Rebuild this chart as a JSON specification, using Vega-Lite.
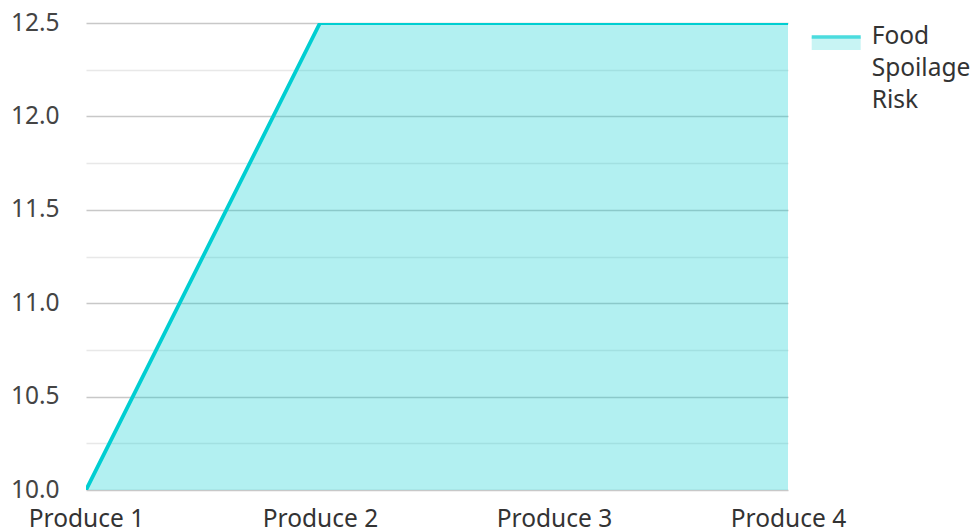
{
  "$schema": "https://vega.github.io/schema/vega-lite/v6.json",
  "autosize": "none",
  "width": 702,
  "height": 467,
  "padding": {"left": 86, "top": 23, "right": 186, "bottom": 41},
  "background": "white",
  "config": {
    "font": "Noto Sans",
    "view": {"stroke": null},
    "style": {"guide-label": {"lineHeight": 32}}
  },
  "data": {
    "values": [
      {"product": "Produce 1", "risk": 10.0},
      {"product": "Produce 2", "risk": 12.5},
      {"product": "Produce 3", "risk": 12.5},
      {"product": "Produce 4", "risk": 12.5}
    ]
  },
  "layer": [
    {
      "mark": {
        "type": "area",
        "fill": "#00CED1",
        "fillOpacity": 0.3,
        "clip": true,
        "line": {"stroke": "#00CED1", "strokeWidth": 3.8}
      },
      "encoding": {
        "x": {
          "field": "product",
          "type": "ordinal",
          "scale": {"type": "point", "padding": 0},
          "axis": {
            "title": null,
            "labelAngle": 0,
            "ticks": false,
            "domain": false,
            "grid": false,
            "labelFontSize": 24.5,
            "labelColor": "#333333",
            "labelPadding": 17
          }
        },
        "y": {
          "field": "risk",
          "type": "quantitative",
          "scale": {"domain": [10, 12.5], "nice": false, "zero": false},
          "axis": {
            "title": null,
            "values": [10, 10.25, 10.5, 10.75, 11, 11.25, 11.5, 11.75, 12, 12.25, 12.5],
            "labelExpr": "datum.value % 0.5 === 0 ? format(datum.value, '.1f') : ''",
            "ticks": false,
            "domain": false,
            "grid": true,
            "gridColor": {"condition": {"test": "datum.value % 0.5 === 0", "value": "#c8c8c8"}, "value": "#e8e8e8"},
            "gridWidth": 1.5,
            "labelFontSize": 24.5,
            "labelColor": "#444444",
            "labelPadding": 27
          }
        }
      }
    },
    {
      "transform": [{"filter": "false"}],
      "mark": {"type": "point", "filled": true, "stroke": "#00CED1", "strokeWidth": 3.7, "strokeDash": [49, 300]},
      "encoding": {
        "color": {
          "datum": "Food Spoilage Risk",
          "scale": {"domain": ["Food Spoilage Risk"], "range": ["#B2F0F0"]},
          "legend": {
            "title": null,
            "orient": "none",
            "legendX": 723.7,
            "legendY": -24.4,
            "padding": 0,
            "symbolType": "M-1,0.486H1V1.016H-1Z",
            "symbolSize": 2401,
            "symbolStrokeColor": "#00CED1",
            "symbolStrokeWidth": 3.7,
            "symbolDash": [49, 300],
            "labelFontSize": 24.5,
            "labelColor": "#333333",
            "labelExpr": "split(datum.label, ' ')",
            "labelBaseline": "top",
            "labelLimit": 200,
            "labelOffset": 9
          }
        }
      }
    }
  ]
}
